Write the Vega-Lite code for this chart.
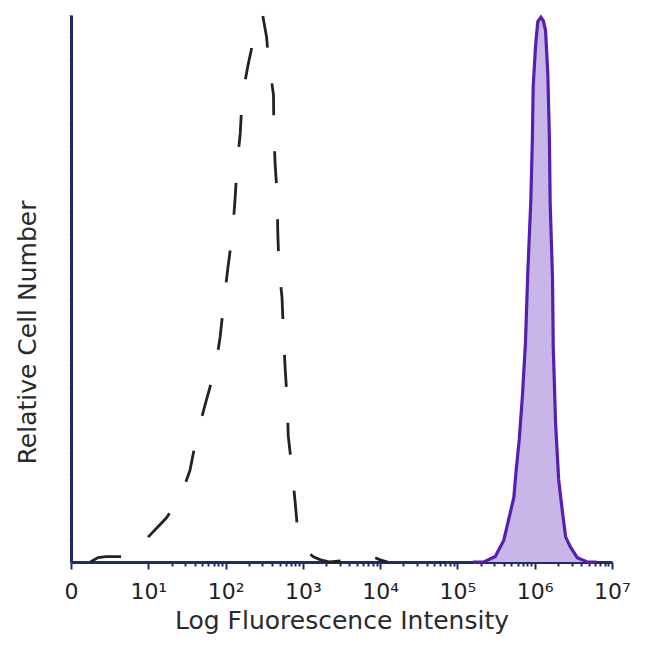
{
  "$schema": "https://vega.github.io/schema/vega-lite/v6.json",
  "width": 541,
  "height": 547,
  "autosize": {"type": "none"},
  "padding": {"left": 71, "top": 15, "right": 38, "bottom": 88},
  "background": "white",
  "config": {"view": {"stroke": null}},
  "datasets": {
    "isotype": [
      {"d": 0.25, "c": 0}, {"d": 0.35, "c": 4}, {"d": 0.45, "c": 5}, {"d": 0.55, "c": 5}, {"d": 0.65, "c": 5}, {"d": 0.75, "c": 4},
      {"d": 0.96, "c": 20}, {"d": 1.23, "c": 40}, {"d": 1.41, "c": 58}, {"d": 1.54, "c": 84}, {"d": 1.63, "c": 116},
      {"d": 1.74, "c": 145}, {"d": 1.87, "c": 178}, {"d": 1.93, "c": 206}, {"d": 1.98, "c": 239}, {"d": 2.03, "c": 269},
      {"d": 2.09, "c": 301}, {"d": 2.12, "c": 329}, {"d": 2.15, "c": 363}, {"d": 2.19, "c": 392}, {"d": 2.215, "c": 425},
      {"d": 2.29, "c": 454}, {"d": 2.36, "c": 477}, {"d": 2.45, "c": 497}, {"d": 2.48, "c": 500}, {"d": 2.53, "c": 480},
      {"d": 2.56, "c": 457}, {"d": 2.62, "c": 427}, {"d": 2.625, "c": 395}, {"d": 2.64, "c": 365}, {"d": 2.67, "c": 333},
      {"d": 2.675, "c": 303}, {"d": 2.69, "c": 270}, {"d": 2.73, "c": 242}, {"d": 2.75, "c": 207}, {"d": 2.77, "c": 178},
      {"d": 2.80, "c": 145}, {"d": 2.81, "c": 116}, {"d": 2.86, "c": 84}, {"d": 2.90, "c": 55}, {"d": 2.94, "c": 23},
      {"d": 3.04, "c": 11}, {"d": 3.13, "c": 5}, {"d": 3.23, "c": 2}, {"d": 3.35, "c": 0}, {"d": 3.5, "c": 1},
      {"d": 3.6, "c": 5}, {"d": 3.75, "c": 5}, {"d": 3.9, "c": 5}, {"d": 4.0, "c": 2}, {"d": 4.1, "c": 0}
    ],
    "stained": [
      {"d": 5.20, "c": 0}, {"d": 5.34, "c": 0}, {"d": 5.49, "c": 5}, {"d": 5.60, "c": 20}, {"d": 5.66, "c": 38},
      {"d": 5.73, "c": 59}, {"d": 5.76, "c": 84}, {"d": 5.80, "c": 112}, {"d": 5.84, "c": 151}, {"d": 5.88, "c": 200},
      {"d": 5.91, "c": 264}, {"d": 5.95, "c": 331}, {"d": 5.97, "c": 388}, {"d": 5.98, "c": 434}, {"d": 6.01, "c": 471},
      {"d": 6.04, "c": 494}, {"d": 6.08, "c": 498}, {"d": 6.11, "c": 495}, {"d": 6.14, "c": 486}, {"d": 6.17, "c": 445},
      {"d": 6.19, "c": 388}, {"d": 6.20, "c": 328}, {"d": 6.23, "c": 260}, {"d": 6.24, "c": 196}, {"d": 6.27, "c": 127},
      {"d": 6.31, "c": 75}, {"d": 6.36, "c": 45}, {"d": 6.40, "c": 23}, {"d": 6.46, "c": 14}, {"d": 6.55, "c": 4},
      {"d": 6.68, "c": 0}, {"d": 6.8, "c": 0}
    ]
  },
  "resolve": {"axis": {"x": "independent", "y": "independent"}},
  "layer": [
    {
      "data": {"name": "isotype"},
      "mark": {"type": "line", "color": "#222222", "strokeWidth": 2.8, "strokeDash": [32, 36], "interpolate": "linear"},
      "encoding": {
        "x": {
          "field": "d", "type": "quantitative",
          "scale": {"domain": [0, 7], "nice": false, "zero": false},
          "axis": {
            "orient": "bottom",
            "title": "Log Fluorescence Intensity",
            "titleFont": "DejaVu Sans", "titleFontSize": 25, "titleFontWeight": "normal", "titleColor": "#2a2a2a",
            "titlePadding": 6,
            "values": [0, 1, 2, 3, 4, 5, 6, 7],
            "labelExpr": "datum.value == 0 ? '0' : '10' + ['', '¹', '²', '³', '⁴', '⁵', '⁶', '⁷'][datum.value]",
            "labelFont": "DejaVu Sans", "labelFontSize": 22, "labelColor": "#222222",
            "labelOverlap": false, "labelFlush": false, "labelPadding": 12,
            "domainColor": "#1f2b6d", "domainWidth": 3,
            "tickColor": "#1f2b6d", "tickWidth": 2, "tickSize": 7,
            "grid": false
          }
        },
        "y": {
          "field": "c", "type": "quantitative",
          "scale": {"domain": [0, 500], "nice": false},
          "axis": {
            "orient": "left",
            "title": "Relative Cell Number",
            "titleFont": "DejaVu Sans", "titleFontSize": 25, "titleFontWeight": "normal", "titleColor": "#2a2a2a",
            "titleX": -44, "titleY": 317, "titleAngle": -90, "titleAlign": "center", "titleBaseline": "middle",
            "labels": false, "values": [0, 20, 40, 60, 80, 100, 120, 140, 160, 180, 200, 220, 240, 260, 280, 300, 320, 340, 360, 380, 400, 420, 440, 460, 480, 500],
            "domainColor": "#1f2b6d", "domainWidth": 3,
            "tickColor": "#6d78a8", "tickWidth": 1.5, "tickSize": 2, "tickOpacity": 0.6,
            "grid": false
          }
        }
      }
    },
    {
      "data": {"name": "stained"},
      "mark": {"type": "area", "color": "#c9b6e8", "opacity": 1, "interpolate": "linear",
               "line": {"color": "#5520b0", "strokeWidth": 3.2}},
      "encoding": {
        "x": {
          "field": "d", "type": "quantitative",
          "axis": {
            "orient": "bottom", "title": null, "labels": false, "domain": false, "grid": false,
            "values": [
              1.30103, 1.47712, 1.60206, 1.69897, 1.77815, 1.84510, 1.90309, 1.95424,
              2.30103, 2.47712, 2.60206, 2.69897, 2.77815, 2.84510, 2.90309, 2.95424,
              3.30103, 3.47712, 3.60206, 3.69897, 3.77815, 3.84510, 3.90309, 3.95424,
              4.30103, 4.47712, 4.60206, 4.69897, 4.77815, 4.84510, 4.90309, 4.95424,
              5.30103, 5.47712, 5.60206, 5.69897, 5.77815, 5.84510, 5.90309, 5.95424,
              6.30103, 6.47712, 6.60206, 6.69897, 6.77815, 6.84510, 6.90309, 6.95424],
            "tickColor": "#1f2b6d", "tickWidth": 2, "tickSize": 4
          }
        },
        "y": {"field": "c", "type": "quantitative", "axis": null}
      }
    }
  ]
}
